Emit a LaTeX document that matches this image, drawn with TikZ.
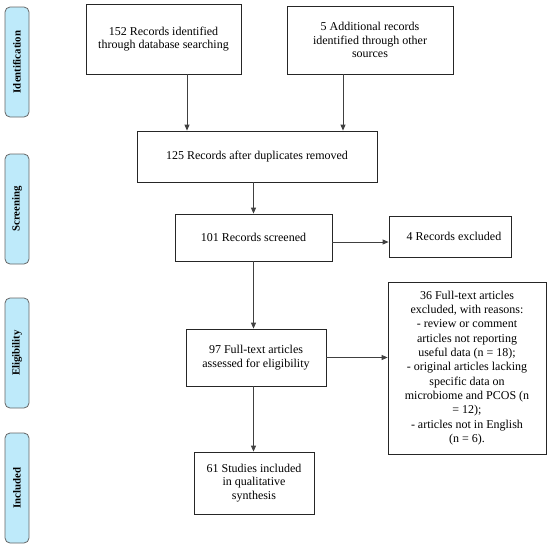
\documentclass[tikz,border=0pt]{standalone}
\usepackage{fontspec}
\setmainfont{Liberation Serif}
\usetikzlibrary{calc, arrows.meta}
\definecolor{stagefill}{RGB}{190,234,250}

\begin{document}
\begin{tikzpicture}[x=1pt, y=-1pt,
		box/.style = {draw=black!85, line width=0.8pt, align=center, inner sep=0pt, font=\fontsize{12}{13.8}\selectfont},
		stage/.style = {draw=black!60, fill=stagefill, rounded corners=5pt, line width=0.8pt, rotate=90, inner sep=0pt, minimum width=110pt, minimum height=24pt, font=\bfseries\fontsize{10.8}{12}\selectfont},
		flow/.style = {draw=black!75, line width=0.8pt, -{Triangle[length=6pt, width=5pt]}}]
		\useasboundingbox (0,0) rectangle (550,550);
		
		% stages
		\node[stage] (identification) at (17,62) {Identification};
		\node[stage] (screening) at (17,209) {Screening};
		\node[stage] (eligibility) at (17,353) {Eligibility};
		\node[stage] (included) at (17,488) {Included};
		
		% boxes
		\node[box, minimum width=155pt, minimum height=70pt] (database) at (163.5,39) {152 Records identified\\through database searching};
		\node[box, minimum width=166pt, minimum height=68pt] (other) at (370,40) {5 Additional records\\identified through other\\sources};
		\node[box, minimum width=240pt, minimum height=51pt] (duplicates) at (257,156.5) {125 Records after duplicates removed};
		\node[box, minimum width=157pt, minimum height=47pt] (screened) at (253.5,237.5) {101 Records screened};
		\node[box, minimum width=122pt, minimum height=41pt] (excluded) at (450,236.5) {\hspace*{8pt}4 Records excluded};
		\node[box, minimum width=140pt, minimum height=57pt] (fulltext) at (256,357.5) {97 Full-text articles\\assessed for eligibility};
		\node[box, minimum width=158pt, minimum height=172pt, font=\fontsize{12}{14.3}\selectfont] (reasons) at (467,368) {36 Full-text articles\\excluded, with reasons:\\- review or comment\\articles not reporting\\useful data (n = 18);\\- original articles lacking\\specific data on\\microbiome and PCOS (n\\= 12);\\- articles not in English\\(n = 6).};
		\node[box, minimum width=120pt, minimum height=62pt] (synthesis) at (254,483) {61 Studies included\\in qualitative\\synthesis};
		
		% arrows
		\draw[flow] ([xshift=23.5pt]database.south) -- ([xshift=23.5pt]database.south |- duplicates.north);
		\draw[flow] ([xshift=-27pt]other.south) -- ([xshift=-27pt]other.south |- duplicates.north);
		\draw[flow] (duplicates.south -| screened) -- (screened.north);
		\draw[flow] ([yshift=-4.5pt]screened.east) -- ([yshift=-4.5pt]screened.east -| excluded.west);
		\draw[flow] (screened.south) -- (screened.south |- fulltext.north);
		\draw[flow] (fulltext.east) -- (fulltext.east -| reasons.west);
		\draw[flow] (fulltext.south -| screened) -- (synthesis.north -| screened);
	\end{tikzpicture}
\end{document}
